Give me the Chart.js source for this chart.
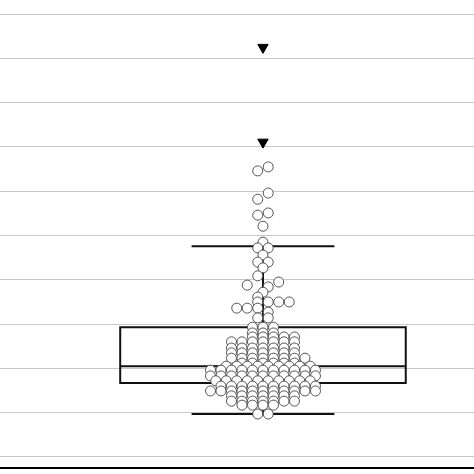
<!DOCTYPE html>
<html>
<head>
<script src="https://cdn.jsdelivr.net/npm/chart.js@4"></script>
<style>html,body{margin:0;padding:0;background:#fff}#wrap{width:474px;height:474px}</style>
</head>
<body>
<div id="wrap"><canvas id="c"></canvas></div>
<script>
// box statistics (y units)
var boxQ1 = 1.67, boxMedian = 2.05, boxQ3 = 2.93;
var whiskerLow = 0.97, whiskerHigh = 4.76;
var outliersAbove = [9.25, 7.11];

// swarm rows: value and column offsets
var rowValues = [6.55, 6.46, 5.96, 5.82, 5.51, 5.46, 5.21, 4.85, 4.72, 4.56, 4.40, 4.27, 4.09, 3.95, 3.88, 3.84, 3.72, 3.61, 3.50, 3.36, 3.27, 3.14,
  2.93, 2.80, 2.71, 2.60, 2.46, 2.35, 2.23, 2.12, 2.05, 1.96, 1.83, 1.72, 1.60, 1.49, 1.38, 1.26, 1.17, 0.97];
var rowOffsets = [[0.5], [-0.5], [0.5], [-0.5], [0.5], [-0.5], [0], [0], [-0.5, 0.5], [0], [-0.5, 0.5], [0], [-0.5], [1.5], [-1.5], [0.5], [0], [-0.5], [-0.5, 0.5, 1.5, 2.5], [-2.5, -1.5, -0.5], [0.5], [-0.5, 0.5],
  [-1, 0, 1], [-1, 0, 1], [-1, 0, 1, 2, 3], [-3, -2, -1, 0, 1, 2, 3], [-3, -2, -1, 0, 1, 2, 3], [-3, -2, -1, 0, 1, 2, 3], [-3, -2, -1, 0, 1, 2, 3, 4],
  [-2, -1, 0, 1, 2, 3], [-3.5, -2.5, -1.5, -0.5, 0.5, 1.5, 2.5, 3.5, 4.5], [-5, -4, -3, -2, -1, 0, 1, 2, 3, 4, 5], [-5, -4, -3, -2, -1, 0, 1, 2, 3, 4, 5],
  [-4.5, -3.5, -2.5, -1.5, -0.5, 0.5, 1.5, 2.5, 3.5, 4.5], [-4, -3, -2, -1, 0, 1, 2, 3, 4, 5], [-5, -4, -3, -2, -1, 0, 1, 2, 3, 4, 5],
  [-3, -2, -1, 0, 1, 2, 3], [-3, -2, -1, 0, 1, 2, 3], [-2, -1, 0, 1], [-0.5, 0.5]];
var boxHalf = 13.6, whiskerHalf = 6.8;

var swarm = [];
for (var i = 0; i < rowValues.length; i++) {
  for (var j = 0; j < rowOffsets[i].length; j++) swarm.push({x: rowOffsets[i][j], y: rowValues[i]});
}
var tri = outliersAbove.map(function (v) { return {x: 0, y: v}; });

var boxPlugin = {
  id: 'box',
  beforeDatasetsDraw: function (chart) {
    var c = chart.ctx, xs = chart.scales.x, ys = chart.scales.y;
    var cx = xs.getPixelForValue(0);
    c.save();
    c.strokeStyle = '#111'; c.lineWidth = 2;
    c.beginPath();
    c.moveTo(cx, ys.getPixelForValue(boxQ3)); c.lineTo(cx, ys.getPixelForValue(whiskerHigh));
    c.moveTo(cx, ys.getPixelForValue(boxQ1)); c.lineTo(cx, ys.getPixelForValue(whiskerLow));
    [whiskerHigh, whiskerLow].forEach(function (w) {
      c.moveTo(xs.getPixelForValue(-whiskerHalf), ys.getPixelForValue(w));
      c.lineTo(xs.getPixelForValue(whiskerHalf), ys.getPixelForValue(w));
    });
    var l = xs.getPixelForValue(-boxHalf), r = xs.getPixelForValue(boxHalf);
    c.rect(l, ys.getPixelForValue(boxQ3), r - l, ys.getPixelForValue(boxQ1) - ys.getPixelForValue(boxQ3));
    c.moveTo(l, ys.getPixelForValue(boxMedian)); c.lineTo(r, ys.getPixelForValue(boxMedian));
    c.stroke();
    c.restore();
  }
};

new Chart(document.getElementById('c'), {
  type: 'scatter',
  data: {datasets: [
    {data: swarm, pointRadius: 5, backgroundColor: '#fff', borderColor: '#444', borderWidth: 0.9},
    {data: tri, pointStyle: 'triangle', rotation: 180, pointRadius: 6, backgroundColor: '#000', borderColor: '#000'}
  ]},
  options: {
    responsive: true, maintainAspectRatio: false, animation: false,
    layout: {autoPadding: false, padding: {top: 0, left: 0, right: 0, bottom: 6}},
    plugins: {legend: {display: false}, tooltip: {enabled: false}},
    scales: {
      x: {min: -25.05, max: 20.1, ticks: {display: false}, grid: {display: false}, border: {color: '#000', width: 2},
        afterFit: function (s) { s.height = 0; }},
      y: {min: -0.25, max: 10.32, afterBuildTicks: function (s) { s.ticks = [0,1,2,3,4,5,6,7,8,9,10].map(function (v) { return {value: v}; }); },
        ticks: {display: false}, grid: {color: '#c8c8c8', drawTicks: false}, border: {display: false},
        afterFit: function (s) { s.width = 0; }}
    }
  },
  plugins: [boxPlugin]
});
</script>
</body>
</html>
